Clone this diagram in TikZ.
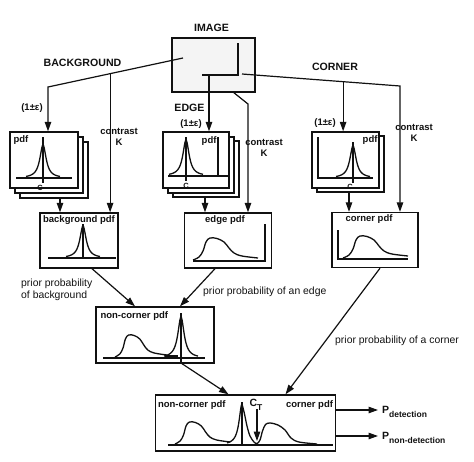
\documentclass[tikz,border=0pt]{standalone}
\usepackage{fontspec}
\setmainfont{Liberation Sans}
\usepackage{tikz}
\usetikzlibrary{arrows.meta,calc}
\definecolor{ink}{HTML}{111111}
\definecolor{imgfill}{HTML}{F4F4F4}
\newcommand{\lblfont}{\bfseries\fontsize{9.5}{11}\selectfont}
\newcommand{\capfont}{\bfseries\fontsize{10.6}{12}\selectfont}
\newcommand{\txtfont}{\fontsize{10.4}{12}\selectfont}
\newcommand{\subtxt}[1]{\smash{\raisebox{-3.5pt}{\fontsize{8.5}{9}\selectfont #1}}}

\begin{document}
\begin{tikzpicture}[x=1pt, y=-1pt,
  every node/.style={font=\lblfont, text=ink, inner sep=0pt},
  box/.style={rectangle, draw=ink, line width=1.4pt, fill=white},
  imgbox/.style={rectangle, draw=ink, line width=2pt, fill=imgfill},
  caplbl/.style={font=\capfont},
  note/.style={font=\txtfont, align=left},
  smalllbl/.style={font=\bfseries\fontsize{7.5}{8}\selectfont},
  curve/.style={draw=ink, line width=1.3pt},
  axisln/.style={draw=ink, line width=1.2pt},
  ar/.style={-{Triangle[length=9.5pt, width=6.5pt]}, draw=ink, line width=1.2pt},
  pics/peak/.style={code={
    \draw[curve] plot[domain=-17:17, samples=61, smooth] (\x,{-#1/(1+(\x/3.8)^2)});}},
  pics/hump/.style={code={
    \draw[curve] plot[smooth, tension=0.6] coordinates {(0,0) (6,-3) (10,-9)
      (13,-18) (17,-22) (24,-21.5) (31,-18) (36,-12) (41,-7) (49,-4) (65,-2)};}}
]
\useasboundingbox (0,0) rectangle (474,461);

% image
\node[imgbox, minimum width=83pt, minimum height=54pt] (img) at (213.5,65) {};
\node[caplbl] (imgl) at (211.5,28) {IMAGE};
\draw[ink, line width=2.6pt] (238,43) -- (238,75) -- (202,75);

\coordinate (bgsrc) at (183,58);
\coordinate (bgknee) at (48,87);
\coordinate (bgbr) at ($(bgsrc)!0.54!(bgknee)$);
\coordinate (edgesrc) at (209,75);
\coordinate (edgeKsrc) at (233,92);
\coordinate (edgeKknee) at (248,104);
\coordinate (cornersrc) at (242,74);
\coordinate (cornerknee) at (400,86);
\coordinate (cornerbr) at ($(cornersrc)!0.64!(cornerknee)$);

\node[caplbl] (bgl) at (82.5,63) {BACKGROUND};
\node[caplbl] (edgel) at (189.5,108) {EDGE};
\node[caplbl] (cornerl) at (335,67) {CORNER};
\node (bgeps) at (32,108) {(1±ε)};
\node (edgeeps) at (191,124) {(1±ε)};
\node (cornereps) at (325,123) {(1±ε)};
\node[align=center] (bgK) at (119,137) {contrast\\K};
\node[align=center] (edgeK) at (264,147.5) {contrast\\K};
\node[align=center] (cornerK) at (414,133) {contrast\\K};

% stacks of pdfs
\node[box, minimum width=68pt, minimum height=56pt] (bgstack3) at (54,170) {};
\node[box, minimum width=68pt, minimum height=56pt] (bgstack2) at (49,165) {};
\node[box, minimum width=68pt, minimum height=56pt] (bgstack) at (44,160) {};
\node[anchor=north west] (bgstackl) at ([xshift=4pt, yshift=-4pt]bgstack.north west) {pdf};
\draw[axisln] (16,178) -- (72,178);
\pic at (43,178) {peak=33};
\draw[axisln] (43,137) -- (43,183);
\node[smalllbl] (bgc) at (40,187.5) {C};

\node[box, minimum width=66pt, minimum height=56pt] (edgestack3) at (206,169) {};
\node[box, minimum width=66pt, minimum height=56pt] (edgestack2) at (201,165) {};
\node[box, minimum width=66pt, minimum height=56pt] (edgestack) at (196,160) {};
\node[anchor=north east] (edgestackl) at ([xshift=-13pt, yshift=-5pt]edgestack.north east) {pdf};
\draw[axisln] (168,176) -- (229,176);
\pic at (186,176) {peak=36};
\draw[axisln] (186,137) -- (186,181);
\draw[axisln] (218,137) -- (218,176);
\node[smalllbl] (edgec) at (186,185.5) {C};

\node[box, minimum width=67pt, minimum height=56pt] (cornerstack2) at (350.5,164) {};
\node[box, minimum width=67pt, minimum height=56pt] (cornerstack) at (345.5,160) {};
\node[anchor=north east] (cornerstackl) at ([xshift=-2pt, yshift=-4pt]cornerstack.north east) {pdf};
\draw[axisln] (318,137) -- (318,178) -- (373,178);
\pic at (353,178) {peak=32};
\draw[axisln] (353,142) -- (353,183);
\node[smalllbl] (cornerc) at (350,186.5) {C};

% class pdfs
\node[box, minimum width=78pt, minimum height=55pt] (bgpdf) at (79,240.5) {};
\node[anchor=north] (bgpdfl) at ([yshift=-3pt]bgpdf.north) {background pdf};
\draw[axisln] (48,258) -- (116,258);
\pic at (83,258) {peak=32};
\draw[axisln] (83,224) -- (83,258);

\node[box, minimum width=87pt, minimum height=55pt] (edgepdf) at (228,240.5) {};
\node[anchor=north] (edgepdfl) at ([xshift=-3pt, yshift=-3pt]edgepdf.north) {edge pdf};
\draw[axisln] (193,261) -- (265,261) -- (265,224);
\pic at (193,260) {hump};

\node[box, minimum width=86pt, minimum height=55pt] (cornerpdf) at (375,240) {};
\node[anchor=north] (cornerpdfl) at ([xshift=-6pt, yshift=-3pt]cornerpdf.north) {corner pdf};
\draw[axisln] (338,230) -- (338,259) -- (408,259);
\pic at (343,258) {hump};

\node[box, minimum width=118pt, minimum height=56pt] (ncpdf) at (155,335) {};
\node[anchor=north west] (ncpdfl) at ([xshift=5pt, yshift=-5pt]ncpdf.north west) {non-corner pdf};
\draw[axisln] (103,358) -- (205,358);
\pic[xscale=0.8] at (115,357) {hump};
\draw[axisln] (165,356) -- (178,356);
\pic at (181,358) {peak=41};
\draw[axisln] (181,313) -- (181,362);

\node[box, minimum width=180pt, minimum height=56pt] (final) at (245.5,423) {};
\node[anchor=north west] (finalnc) at ([xshift=3pt, yshift=-6pt]final.north west) {non-corner pdf};
\node[anchor=north east] (finalc) at ([xshift=-3pt, yshift=-6pt]final.north east) {corner pdf};
\draw[axisln] (168,445) -- (333,445);
\pic[xscale=0.85] at (175,444) {hump};
\draw[curve] plot[domain=-15:0, samples=31, smooth] ({242+\x},{445-41/(1+(\x/3.5)^2)});
\draw[curve] plot[smooth, tension=0.55] coordinates {(242,404) (244.5,414) (247,426)
  (250,436) (254,442) (257,443.5) (260,440) (262.5,431) (265.5,424.5) (270,423)
  (278,425) (285,430) (291,438) (299,442) (317,444)};
\draw[axisln] (242,402) -- (242,445);
\node[font=\bfseries\fontsize{10.5}{12}\selectfont] (ct) at (256,403) {C\subtxt{T}};
\coordinate (valley) at (257,441);

% notes
\node[note, anchor=west] (bgprior) at (21,290) {prior probability\\of background};
\node[note, anchor=west] (edgeprior) at (203,292) {prior probability of an edge};
\node[note, anchor=west] (cornerprior) at (335,341) {prior probability of a corner};

% outputs
\node[anchor=west, font=\bfseries\fontsize{10.5}{12}\selectfont] (pdet) at (382,410) {P\subtxt{detection}};
\node[anchor=west, font=\bfseries\fontsize{10.5}{12}\selectfont] (pnon) at (382,436) {P\subtxt{non-detection}};

% connectors
\draw[ar] (bgsrc) -- (bgknee) -- (bgknee |- bgstack.north);
\draw[ar] (bgbr) -- (bgbr |- bgpdf.north);
\draw[ar] ([xshift=6pt]bgstack3.south) -- ([xshift=6pt]bgstack3.south |- bgpdf.north);
\draw[ar] (edgesrc) -- (edgesrc |- edgestack.north);
\draw[ar] (edgeKsrc) -- (edgeKknee) -- (edgeKknee |- edgepdf.north);
\draw[ar] ([xshift=-1pt]edgestack3.south) -- ([xshift=-1pt]edgestack3.south |- edgepdf.north);
\draw[ar] (cornersrc) -- (cornerknee) -- (cornerknee |- cornerpdf.north);
\draw[ar] (cornerbr) -- (cornerbr |- cornerstack.north);
\draw[ar] ([xshift=-1.5pt]cornerstack2.south) -- ([xshift=-1.5pt]cornerstack2.south |- cornerpdf.north);
\draw[ar] ([xshift=13pt]bgpdf.south) -- ([xshift=-20pt]ncpdf.north);
\draw[ar] ([xshift=-13pt]edgepdf.south) -- ([xshift=25pt]ncpdf.north);
\draw[ar] ([xshift=5pt]cornerpdf.south) -- ([xshift=40pt]final.north);
\draw[ar] ([xshift=27pt]ncpdf.south) -- ([xshift=-17pt]final.north);
\draw[ar] ([xshift=1pt, yshift=-2pt]ct.south) -- (valley);
\draw[ar] (final.east |- pdet.west) -- ([xshift=-4pt]pdet.west);
\draw[ar] (final.east |- pnon.west) -- ([xshift=-4pt]pnon.west);
\end{tikzpicture}
\end{document}
